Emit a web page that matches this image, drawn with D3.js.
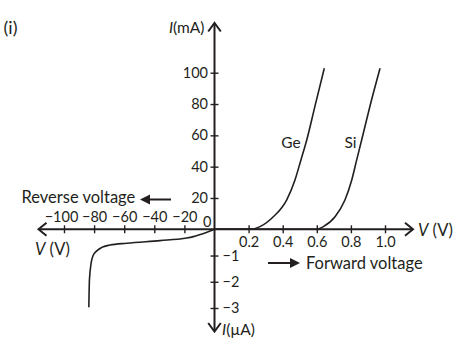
<!DOCTYPE html>
<html><head><meta charset="utf-8">
<script src="https://cdn.jsdelivr.net/npm/d3@7"></script>
<style>
html,body{margin:0;padding:0;background:#fff;}
text{font-family:Lato,"Open Sans",sans-serif;fill:#231f20;}
</style></head>
<body><svg id="c" width="463" height="348"></svg>
<script>
// ---- data ----
const xPosTicks = [0.2, 0.4, 0.6, 0.8, 1.0];
const xNegTicks = [-100, -80, -60, -40, -20];
const yPosTicks = [20, 40, 60, 80, 100];
const yNegTicks = [-1, -2, -3];

const geV = [0, 0.1, 0.208, 0.267, 0.345, 0.423, 0.472, 0.507, 0.541, 0.59, 0.644];
const geI = [0, 0, 0, 1.7, 8, 18.7, 31.5, 44.3, 57, 79, 102.8];   // mA
const siV = [0, 0.3, 0.599, 0.638, 0.707, 0.765, 0.805, 0.834, 0.863, 0.915, 0.971];
const siI = [0, 0, 0, 1.7, 8, 18.7, 31.5, 44.3, 57, 80, 102.8];   // mA
const revV = [-83.5, -83.1, -82, -80.5, -78.2, -74.9, -69.4, -58.3, -36.2, -19.6, -14, -10, -5, 0];
const revI = [-2.97, -1.93, -1.3, -0.98, -0.82, -0.69, -0.6, -0.53, -0.43, -0.34, -0.28, -0.21, -0.11, 0]; // µA

const MINUS = "\u2212";
const ink = "#231f20";

// ---- scales ----
const x0 = 214.5, y0 = 229.3;
const xPos = d3.scaleLinear().domain([0, 1]).range([x0, 385]);
const xNeg = d3.scaleLinear().domain([-100, 0]).range([64, x0]);
const yPos = d3.scaleLinear().domain([0, 100]).range([y0, 72.7]);
const yNeg = d3.scaleLinear().domain([-3, 0]).range([308, y0]);

const svg = d3.select("#c");
const fmtNeg = d => MINUS + Math.abs(d);

// ---- axes (ticks) ----
const gxp = svg.append("g").attr("transform", `translate(0,${y0})`)
  .call(d3.axisBottom(xPos).tickValues(xPosTicks).tickFormat(d3.format(".1f")).tickSize(4));
gxp.selectAll(".tick text").attr("y", 17.5).attr("dy", 0);

const gxn = svg.append("g").attr("transform", `translate(0,${y0})`)
  .call(d3.axisTop(xNeg).tickValues(xNegTicks).tickFormat(fmtNeg).tickSize(4));
gxn.selectAll(".tick text").attr("y", -7.3).attr("dy", 0)
  .attr("dx", d => d === -100 ? -3 : 0);

const gyp = svg.append("g").attr("transform", `translate(${x0},0)`)
  .call(d3.axisLeft(yPos).tickValues(yPosTicks).tickSize(4));
gyp.selectAll(".tick text").attr("x", -6.5);

const gyn = svg.append("g").attr("transform", `translate(${x0},0)`)
  .call(d3.axisRight(yNeg).tickValues(yNegTicks).tickFormat(fmtNeg).tickSize(4));
gyn.selectAll(".tick text").attr("x", 8);

[gxp, gxn].forEach(g => g.selectAll(".tick line").attr("y1", -4).attr("y2", 4));
[gyp, gyn].forEach(g => g.selectAll(".tick line").attr("x1", -4).attr("x2", 4));
[gxp, gxn, gyp, gyn].forEach(g => {
  g.select(".domain").remove();
  g.selectAll(".tick line").attr("stroke", ink).attr("stroke-width", 1.4);
  g.selectAll(".tick text").attr("font-family", "Lato").attr("font-size", 14.5).attr("fill", ink);
});

// ---- axis lines with open arrowheads ----
const axisG = svg.append("g").attr("stroke", ink).attr("stroke-width", 2).attr("fill", "none")
  .attr("stroke-linecap", "butt").attr("stroke-linejoin", "miter");
const xL = 38.5, xR = 413, yT = 23, yB = 331.5;
axisG.append("line").attr("x1", xL + 1).attr("x2", xR - 1).attr("y1", y0).attr("y2", y0);
axisG.append("line").attr("x1", x0).attr("x2", x0).attr("y1", yT + 1).attr("y2", yB - 1);
axisG.append("path").attr("d", `M${xR - 8},${y0 - 6.5}L${xR},${y0}L${xR - 8},${y0 + 6.5}`);
axisG.append("path").attr("d", `M${xL + 8},${y0 - 6.5}L${xL},${y0}L${xL + 8},${y0 + 6.5}`);
axisG.append("path").attr("d", `M${x0 - 6.3},${yT + 8.5}L${x0},${yT}L${x0 + 6.3},${yT + 8.5}`);
axisG.append("path").attr("d", `M${x0 - 6.3},${yB - 8.5}L${x0},${yB}L${x0 + 6.3},${yB - 8.5}`);

// ---- curves ----
const line = (xs, ys) => d3.line().curve(d3.curveMonotoneX).x(d => xs(d[0])).y(d => ys(d[1]));
const curves = svg.append("g").attr("fill", "none").attr("stroke", ink).attr("stroke-width", 1.6);
curves.append("path").attr("d", line(xPos, yPos)(d3.zip(geV, geI)));
curves.append("path").attr("d", line(xPos, yPos)(d3.zip(siV, siI)));
curves.append("path").attr("d", line(xNeg, yNeg)(d3.zip(revV, revI)));

// ---- texts ----
const T = (x, y, s, opts = {}) => {
  const t = svg.append("text").attr("x", x).attr("y", y)
    .attr("font-size", opts.size || 15).attr("text-anchor", opts.anchor || "start");
  if (!opts.baseline) t.attr("dominant-baseline", "central");
  if (opts.html) t.html(s); else t.text(s);
  return t;
};
T(3.5, 26.5, "(i)", {size: 18});
T(204.5, 27, '<tspan font-style="italic">I</tspan>(mA)', {html: true, anchor: "end", size: 15.5});
T(211.5, 221, "0", {size: 14.5, anchor: "end"});
T(418, 230, '<tspan font-style="italic">V</tspan> (V)', {html: true, size: 16.5});
T(35, 248.5, '<tspan font-style="italic">V</tspan> (V)', {html: true, size: 16.5});
T(222, 328.5, '<tspan font-style="italic">I</tspan>(µA)', {html: true, size: 15.5});
T(291, 142, "Ge", {anchor: "middle", size: 15.5});
T(350.5, 142, "Si", {anchor: "middle", size: 15.5});
T(21.5, 203.3, "Reverse voltage", {size: 16.5, baseline: true});
T(306, 263, "Forward voltage", {size: 16.5});

// small direction arrows
const arr = svg.append("g").attr("stroke", ink).attr("fill", ink);
arr.append("line").attr("x1", 148).attr("x2", 171).attr("y1", 199.5).attr("y2", 199.5).attr("stroke-width", 2);
arr.append("path").attr("stroke", "none").attr("d", "M140,199.5L150,194.5L150,204.5Z");
arr.append("line").attr("x1", 268).attr("x2", 291).attr("y1", 263).attr("y2", 263).attr("stroke-width", 2);
arr.append("path").attr("stroke", "none").attr("d", "M300,263L290,258L290,268Z");
</script></body></html>
